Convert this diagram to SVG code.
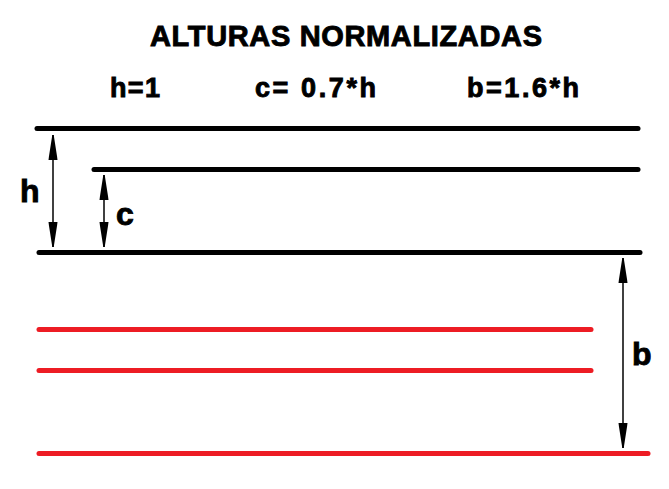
<svg xmlns="http://www.w3.org/2000/svg" width="669" height="489" viewBox="0 0 669 489">
<style>
text{font-family:"Liberation Sans",Arial,sans-serif;font-weight:bold;fill:#000;stroke:#000;stroke-width:0.9}
.blk{stroke:#000;stroke-width:5;stroke-linecap:round}
.red{stroke:#ed1c24;stroke-width:5;stroke-linecap:round}
.dim{stroke:#000;stroke-width:1.5;fill:none;marker-start:url(#ah);marker-end:url(#ah)}
</style>
<defs>
<marker id="ah" markerUnits="userSpaceOnUse" markerWidth="26" markerHeight="11" refX="25" refY="5" orient="auto-start-reverse">
<path d="M0,0.5 L4,1 L25,4.3 L25,5.7 L4,9 L0,9.5 z" fill="#000"/>
</marker>
</defs>
<rect width="669" height="489" fill="#fff"/>
<g id="title">
<text x="346" y="46" font-size="29" text-anchor="middle" textLength="392" lengthAdjust="spacing">ALTURAS NORMALIZADAS</text>
</g>
<g id="formulas">
<text x="110" y="97" font-size="27" textLength="50" lengthAdjust="spacing">h=1</text>
<text x="255" y="97" font-size="27" textLength="121" lengthAdjust="spacing">c= 0.7*h</text>
<text x="467" y="97" font-size="27" textLength="112" lengthAdjust="spacing">b=1.6*h</text>
</g>
<g id="levels">
<line class="blk" x1="37" y1="128.5" x2="638" y2="128.5"/>
<line class="blk" x1="94" y1="169.5" x2="638" y2="169.5"/>
<line class="blk" x1="39" y1="252.5" x2="640" y2="252.5"/>
<line class="red" x1="39" y1="329.5" x2="591" y2="329.5"/>
<line class="red" x1="39" y1="370.5" x2="591" y2="370.5"/>
<line class="red" x1="39" y1="453.5" x2="648" y2="453.5"/>
</g>
<g id="connectors">
<line class="dim" x1="53" y1="135" x2="53" y2="247"/>
<line class="dim" x1="104" y1="175" x2="104" y2="247"/>
<line class="dim" x1="623" y1="258" x2="623" y2="448"/>
</g>
<g id="labels">
<text x="20" y="202" font-size="32">h</text>
<text x="116" y="225" font-size="32">c</text>
<text x="632" y="365" font-size="32">b</text>
</g>
</svg>
